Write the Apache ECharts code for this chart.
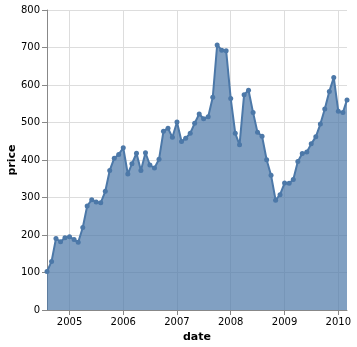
<!DOCTYPE html>
<html><head><meta charset="utf-8">
<script src="https://cdn.jsdelivr.net/npm/echarts@6/dist/echarts.min.js"></script>
<style>html,body{margin:0;padding:0;background:#fff}#c{width:357px;height:347px}</style>
</head><body><div id="c"></div>
<script>
const dates = ["2004-08-01","2004-09-01","2004-10-01","2004-11-01","2004-12-01","2005-01-01","2005-02-01","2005-03-01","2005-04-01","2005-05-01","2005-06-01","2005-07-01","2005-08-01","2005-09-01","2005-10-01","2005-11-01","2005-12-01","2006-01-01","2006-02-01","2006-03-01","2006-04-01","2006-05-01","2006-06-01","2006-07-01","2006-08-01","2006-09-01","2006-10-01","2006-11-01","2006-12-01","2007-01-01","2007-02-01","2007-03-01","2007-04-01","2007-05-01","2007-06-01","2007-07-01","2007-08-01","2007-09-01","2007-10-01","2007-11-01","2007-12-01","2008-01-01","2008-02-01","2008-03-01","2008-04-01","2008-05-01","2008-06-01","2008-07-01","2008-08-01","2008-09-01","2008-10-01","2008-11-01","2008-12-01","2009-01-01","2009-02-01","2009-03-01","2009-04-01","2009-05-01","2009-06-01","2009-07-01","2009-08-01","2009-09-01","2009-10-01","2009-11-01","2009-12-01","2010-01-01","2010-02-01","2010-03-01"];
const prices = [102.37,129.6,190.64,181.98,192.79,195.62,187.99,180.51,220,277.27,294.15,287.76,286,316.46,372.14,404.91,414.86,432.66,362.62,390,417.94,371.82,419.33,386.6,378.53,401.9,476.39,484.81,460.48,501.5,449.45,458.16,471.38,497.91,522.7,510,515.25,567.27,707,693,691.48,564.3,471.18,440.47,574.29,585.8,526.42,473.75,463.29,400.52,359.36,292.96,307.65,338.53,337.99,348.06,395.97,417.23,421.59,443.05,461.67,495.85,536.12,583,619.98,529.94,526.8,560.19];
const yearTicks = ["2005-01-01","2006-01-01","2007-01-01","2008-01-01","2009-01-01","2010-01-01"];
const yTicks = [0,100,200,300,400,500,600,700,800];

const ts = s => { const [y,m,d] = s.split('-').map(Number); return Date.UTC(y, m-1, d); };
const data = dates.map((d,i) => [ts(d), prices[i]]);
const font = 'DejaVu Sans, sans-serif';
const chart = echarts.init(document.getElementById('c'), null, {renderer:'canvas'});
chart.setOption({
  animation:false,
  grid:{left:47,top:10,width:300,height:300,containLabel:false,outerBoundsMode:'none'},
  xAxis:{
    type:'value', min:ts(dates[0]), max:ts(dates[dates.length-1]),
    name:'date', nameLocation:'middle', nameGap:22, nameMoveOverlap:false,
    nameTextStyle:{fontFamily:font,fontSize:11,fontWeight:'bold',color:'#000'},
    axisLine:{show:true,lineStyle:{color:'#888'}},
    axisTick:{show:true,length:5,lineStyle:{color:'#888'},customValues:yearTicks.map(ts)},
    axisLabel:{fontFamily:font,fontSize:10,color:'#000',margin:7,customValues:yearTicks.map(ts),
      formatter:v=>String(new Date(v).getUTCFullYear())},
    splitLine:{show:true,lineStyle:{color:'#ddd'}}
  },
  yAxis:{
    type:'value', min:0, max:800, interval:100,
    name:'price', nameLocation:'middle', nameGap:29, nameMoveOverlap:false,
    nameTextStyle:{fontFamily:font,fontSize:11,fontWeight:'bold',color:'#000'},
    axisLine:{show:true,lineStyle:{color:'#888'}},
    axisTick:{show:true,length:5,lineStyle:{color:'#888'}},
    axisLabel:{fontFamily:font,fontSize:10,color:'#000',margin:7},
    splitLine:{show:true,lineStyle:{color:'#ddd'}}
  },
  series:[{
    type:'line', data:data, z:3,
    symbol:'circle', symbolSize:5, showSymbol:true,
    itemStyle:{color:'#4c78a8'},
    lineStyle:{color:'#4c78a8',width:2},
    areaStyle:{color:'#4c78a8',opacity:0.7}
  }]
});
</script></body></html>
